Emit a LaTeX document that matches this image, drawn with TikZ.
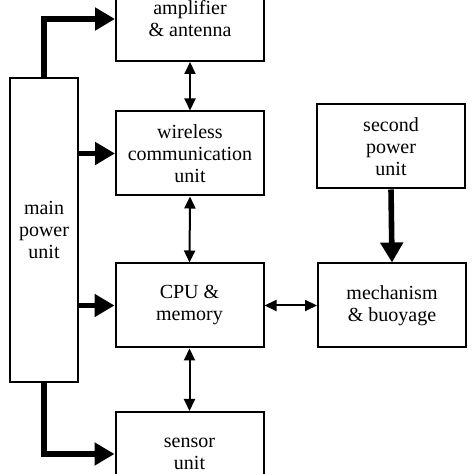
\documentclass[tikz,border=0pt]{standalone}
\usepackage{fontspec}
\setmainfont{Liberation Serif}
\usetikzlibrary{arrows.meta, positioning}

\begin{document}
\begin{tikzpicture}[
    x=0.5pt, y=0.5pt,
    block/.style={draw, line width=1pt, minimum width=74pt, minimum height=42pt,
                  inner sep=0pt, align=center, font=\fontsize{10}{11}\selectfont},
    powerarrow/.style={line width=2.8pt, -{Triangle[length=10pt, width=11pt]}},
    dataarrow/.style={line width=1pt, {Triangle[length=6pt, width=5.5pt]}-{Triangle[length=6pt, width=5.5pt]}},
  ]
    \clip (0,0) rectangle (474,474);
    \useasboundingbox (0,0) rectangle (474,474);

    % blocks
    \node[block] (amp) at (190, 455) {amplifier\\\& antenna};
    \node[block] (wire) at (190, 320.5) {wireless\\communication\\unit};
    \node[block] (cpu) at (189.5, 168.5) {CPU \&\\memory};
    \node[block] (sensor) at (189.5, 20) {sensor\\unit};
    \node[block, minimum width=34pt, minimum height=152pt] (main) at (44, 244)
      {main\\power\\unit};
    \node[block] (second) at (391, 327.5) {second\\power\\unit};
    \node[block] (mech) at (392, 168.5) {mechanism\\\& buoyage};

    % power lines
    \draw[powerarrow] (main.north) |- (amp.west);
    \draw[powerarrow] (main.east |- wire.west) -- (wire.west);
    \draw[powerarrow] (main.east |- cpu.west) -- (cpu.west);
    \draw[powerarrow] (main.south) |- (sensor.west);
    \draw[powerarrow] (second.south) -- (mech.north);

    % data lines
    \draw[dataarrow] (amp.south) -- (wire.north);
    \draw[dataarrow] (wire.south) -- (cpu.north);
    \draw[dataarrow] (cpu.south) -- (sensor.north);
    \draw[dataarrow] (cpu.east) -- (mech.west);
  \end{tikzpicture}
\end{document}
